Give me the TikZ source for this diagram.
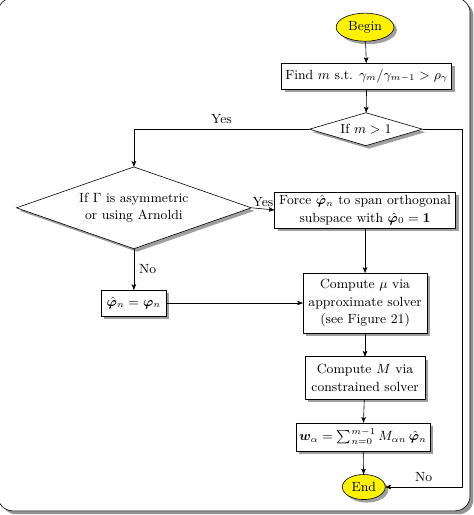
\documentclass[tikz,border=0pt]{standalone}
\usepackage{amsmath, amssymb, bm}
\usepackage{tikz}
\usetikzlibrary{shapes,arrows}
\usetikzlibrary{shapes.geometric}
\usetikzlibrary{shadows}
\usetikzlibrary{calc}
\usetikzlibrary{positioning}
\tikzstyle{shade} = [drop shadow={shadow xshift=2pt, shadow yshift=-2pt, opacity=0.75}]
\tikzstyle{terminal} = [ellipse, draw, fill=yellow, inner sep=1pt, shade]
\tikzstyle{block} = [rectangle, draw, fill=white, align=center, inner sep=2pt, shade]
\tikzstyle{decision} = [diamond, draw, fill=white, align=center, inner sep=0pt, shade]
\tikzstyle{output} = [coordinate]

\begin{document}
\begin{tikzpicture}[auto, >=stealth', font=\fontsize{8.9}{11.8}\selectfont]
    \useasboundingbox (0,0) rectangle (11.153,-12.118);
    % frame
    \draw [rounded corners=0.35cm, fill=white,
      drop shadow={shadow xshift=0.08cm, shadow yshift=-0.08cm, opacity=0.85}]
      (-0.05,0.05) rectangle (11.06,-12.02);

    \node [terminal, name=begin, minimum width=1.36cm, minimum height=0.66cm] at (8.59,-0.64) {Begin};
    \node [block, name=findm, minimum width=4.0cm, minimum height=0.61cm] at (8.63,-1.79)
      {Find $m$ s.t. $\gamma_m/\gamma_{m-1} > \rho_\gamma$};
    \node [decision, name=ifm, minimum width=2.66cm, minimum height=0.78cm, aspect=3.4] at (8.61,-3.04)
      {If $m > 1$};
    \node [decision, name=arnoldi, minimum width=5.53cm, minimum height=1.93cm, aspect=2.9] at (3.15,-4.89)
      {If $\Gamma$ is asymmetric\\or using Arnoldi};
    \node [block, name=force, minimum width=4.26cm, minimum height=0.85cm] at (8.59,-4.94)
      {Force $\hat{\boldsymbol{\varphi}}_n$ to span orthogonal\\subspace with $\hat{\boldsymbol{\varphi}}_0 = \mathbf{1}$};
    \node [block, name=phin, minimum width=1.53cm, minimum height=0.61cm] at (3.15,-7.13)
      {$\hat{\boldsymbol{\varphi}}_n = \boldsymbol{\varphi}_n$};
    \node [block, name=compmu, minimum width=2.92cm, minimum height=1.41cm] at (8.59,-7.13)
      {Compute $\mu$ via\\approximate solver\\(see Figure 21)};
    \node [block, name=compM, minimum width=2.82cm, minimum height=0.99cm] at (8.59,-8.89)
      {Compute $M$ via\\constrained solver};
    \node [block, name=walpha, minimum width=3.08cm, minimum height=0.66cm] at (8.54,-10.28)
      {$\boldsymbol{w}_\alpha = \sum_{n=0}^{m-1} M_{\alpha n}\,\hat{\boldsymbol{\varphi}}_n$};
    \node [terminal, name=end, minimum width=1.01cm, minimum height=0.59cm] at (8.56,-11.46) {End};
    \node [output, name=loop] at (10.87,-3.04) {};

    \draw [->] (begin) -- (findm);
    \draw [->] (findm) -- (ifm);
    \draw [->] (ifm.west) -- node[above] {Yes} (ifm.west -| arnoldi.north) -- (arnoldi.north);
    \draw [->] (ifm.east) -- (loop) |- node[pos=0.75, above] {No} (end.east);
    \draw [->] (arnoldi.east) -- node[above, inner sep=1pt] {Yes} (force.west);
    \draw [->] (arnoldi.south) -- node {No} (phin.north);
    \draw [->] (phin.east) -- (compmu.west);
    \draw [->] (force) -- (compmu);
    \draw [->] (compmu) -- (compM);
    \draw [->] (compM) -- (walpha);
    \draw [->] (walpha) -- (end);
  \end{tikzpicture}
\end{document}
